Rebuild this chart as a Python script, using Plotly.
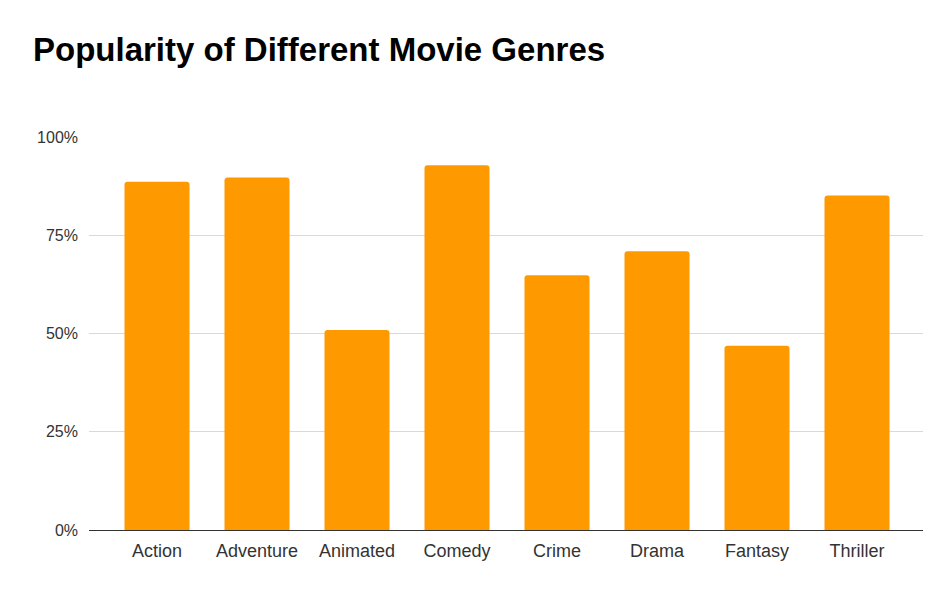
import plotly.graph_objects as go

genres = ["Action", "Adventure", "Animated", "Comedy", "Crime", "Drama", "Fantasy", "Thriller"]
popularity = [0.886, 0.897, 0.509, 0.928, 0.648, 0.709, 0.469, 0.851]
y_ticks = [0, 0.25, 0.5, 0.75, 1.0]
y_tick_labels = ["0%", "25%", "50%", "75%", "100%"]

fig = go.Figure(go.Bar(
    x=list(range(len(genres))),
    y=popularity,
    marker=dict(color="#ff9900", cornerradius=3, line=dict(width=0)),
    width=0.65,
    hoverinfo="skip",
))

fig.update_layout(
    width=948, height=598,
    paper_bgcolor="white", plot_bgcolor="white",
    margin=dict(l=89, r=25, t=137, b=68),
    showlegend=False,
    font=dict(family="Liberation Sans, Arial, sans-serif", color="#333333"),
    title=dict(
        text="<b>Popularity of Different Movie Genres</b>",
        x=33 / 948, xanchor="left", xref="container",
        y=1 - 49 / 598, yanchor="middle", yref="container",
        font=dict(size=33, color="#000000", family="Liberation Sans, Arial, sans-serif"),
    ),
    xaxis=dict(
        range=[-0.68, 7.66],
        tickmode="array", tickvals=list(range(len(genres))), ticktext=genres,
        showgrid=False, zeroline=False,
        showline=True, linecolor="#333333", linewidth=1,
        ticks="", tickfont=dict(size=18, color="#333333"),
        ticklabelstandoff=4,
        fixedrange=True,
    ),
    yaxis=dict(
        range=[0, 1.0],
        tickmode="array", tickvals=y_ticks, ticktext=y_tick_labels,
        showgrid=True, gridcolor="#d9d9d9", gridwidth=1,
        zeroline=False, showline=False,
        ticks="", tickfont=dict(size=16, color="#333333"),
        ticklabelstandoff=10,
        fixedrange=True,
    ),
)

fig.write_html("out.html")
